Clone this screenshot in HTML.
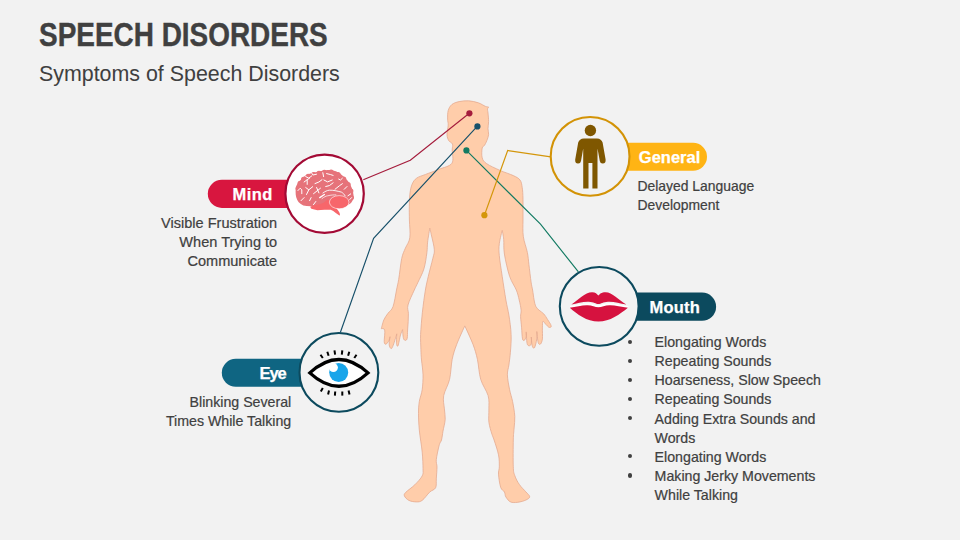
<!DOCTYPE html>
<html><head><meta charset="utf-8">
<style>
html,body{margin:0;padding:0;}
body{width:960px;height:540px;overflow:hidden;background:#F2F2F2;position:relative;font-family:"Liberation Sans",sans-serif;color:#404040;}
.t{position:absolute;white-space:nowrap;}
#title{left:39px;top:18.2px;font-size:33px;line-height:33px;font-weight:bold;transform:scaleX(0.8465);-webkit-text-stroke:0.4px #404040;transform-origin:0 0;color:#404040;}
#sub{left:39px;top:63.5px;font-size:21.4px;line-height:21.4px;color:#404040;}
.body{font-size:14.2px;line-height:18.8px;-webkit-text-stroke:0.2px #404040;}
.lab{position:absolute;font-weight:bold;color:#fff;font-size:16.5px;line-height:16px;white-space:nowrap;-webkit-text-stroke:0.25px #fff;}
svg{position:absolute;left:0;top:0;}
ul{margin:0;padding:0;list-style:none;}
.li{position:relative;}
.li:before{content:"";position:absolute;left:-26.4px;top:6.6px;width:4.1px;height:4.1px;border-radius:50%;background:#404040;}
</style></head><body>
<svg width="960" height="540" viewBox="0 0 960 540">
  <!-- pills -->
  <rect x="207.8" y="179.8" width="120" height="28.1" rx="14.05" fill="#D8163F"/>
  <rect x="590" y="142.8" width="117" height="28" rx="14" fill="#FFB414"/>
  <rect x="598" y="292.6" width="118.1" height="28.2" rx="14.1" fill="#0C4A5E"/>
  <rect x="221.8" y="358.8" width="118" height="28" rx="14" fill="#0F6582"/>
  <!-- body -->
  <path d="M468.7,100.8C471.9,101.0 475.5,101.9 478.3,102.8C481.1,103.7 483.8,105.7 485.5,106.4C487.2,107.1 488.3,106.6 488.6,107.0C488.9,107.4 487.6,108.0 487.5,109.0C487.4,110.0 487.8,110.9 488.0,113.0C488.2,115.1 488.6,118.9 488.6,121.5C488.6,124.1 488.0,126.5 488.0,128.7C488.0,130.9 488.8,132.7 488.6,134.7C488.4,136.7 487.5,138.9 486.8,140.7C486.1,142.5 485.2,144.3 484.4,145.5C483.6,146.7 482.6,145.9 482.2,148.0C481.8,150.1 481.4,155.2 482.2,157.8C482.9,160.4 483.7,161.6 486.7,163.7C489.7,165.8 495.6,168.4 500.0,170.4C504.4,172.4 510.0,174.0 513.3,175.6C516.6,177.2 518.5,178.0 520.0,180.0C521.5,182.0 521.7,184.2 522.2,187.4C522.7,190.6 522.9,193.9 523.0,199.3C523.1,204.7 523.0,213.8 523.0,220.0C523.0,226.2 522.6,230.9 523.3,236.3C524.0,241.7 526.5,247.9 527.4,252.6C528.3,257.3 528.3,259.5 528.9,264.4C529.5,269.3 530.5,277.9 531.1,282.2C531.7,286.5 532.1,287.0 532.6,290.0C533.1,293.0 533.6,297.2 534.1,300.0C534.6,302.8 535.1,304.8 535.9,306.5C536.7,308.2 537.8,309.0 539.1,310.2C540.4,311.4 542.4,312.4 543.8,313.9C545.2,315.4 546.4,317.6 547.5,319.4C548.6,321.2 550.1,323.2 550.7,324.5C551.3,325.8 551.2,326.9 551.2,326.9C551.2,326.9 549.8,327.8 548.9,327.3C548.0,326.8 546.6,325.1 545.6,324.1C544.6,323.1 543.4,320.7 542.9,321.3C542.4,321.9 542.5,324.9 542.4,327.8C542.3,330.7 542.7,336.2 542.4,338.9C542.1,341.6 541.2,343.4 540.5,344.0C539.8,344.6 538.8,344.7 538.2,342.6C537.6,340.5 536.8,331.5 536.8,331.5C536.8,331.5 537.2,336.2 536.8,338.9C536.4,341.6 535.3,346.5 534.5,347.7C533.7,348.9 532.7,347.6 532.2,345.8C531.7,344.0 531.3,337.0 531.3,337.0C531.3,337.0 531.6,342.0 531.3,343.5C531.0,345.0 530.1,345.8 529.4,345.8C528.7,345.8 527.6,345.8 527.1,343.5C526.6,341.2 526.2,331.9 526.2,331.9C526.2,331.9 526.5,335.6 526.2,337.0C525.9,338.4 524.9,340.0 524.3,340.3C523.7,340.6 523.0,341.0 522.5,338.9C522.0,336.8 521.9,331.5 521.6,327.8C521.3,324.1 520.7,319.6 520.6,316.7C520.5,313.8 521.3,313.0 521.1,310.2C520.9,307.4 520.0,303.4 519.2,300.0C518.4,296.6 517.9,293.9 516.3,290.0C514.7,286.1 511.6,282.3 509.6,276.3C507.6,270.3 505.4,260.2 504.4,254.0C503.4,247.8 504.1,243.2 503.7,239.3C503.3,235.4 502.2,230.4 502.2,230.4C502.2,230.4 499.8,239.5 499.3,243.7C498.8,247.9 498.8,250.2 499.3,255.6C499.8,261.0 501.1,268.9 502.2,276.3C503.3,283.7 504.8,293.5 505.9,300.0C507.0,306.5 508.0,309.5 508.9,315.2C509.8,320.9 510.9,328.2 511.1,334.4C511.4,340.6 510.8,347.1 510.4,352.2C510.0,357.3 509.4,361.2 508.9,365.0C508.4,368.8 507.3,370.7 507.4,374.8C507.5,378.9 508.7,385.2 509.6,389.6C510.5,394.1 511.7,397.1 512.6,401.5C513.5,405.9 514.5,411.9 514.8,416.3C515.0,420.7 514.4,424.2 514.1,428.1C513.9,432.1 513.4,433.6 513.3,440.0C513.2,446.4 513.0,460.8 513.3,466.7C513.5,472.6 513.8,472.7 514.8,475.6C515.8,478.6 517.4,481.7 519.3,484.4C521.1,487.1 524.2,489.9 525.9,491.9C527.6,493.9 529.4,495.1 529.6,496.3C529.9,497.5 529.0,498.4 527.4,499.3C525.8,500.2 522.7,501.4 520.0,501.9C517.3,502.4 513.5,503.0 511.1,502.2C508.8,501.4 507.0,498.7 505.9,497.0C504.8,495.3 505.3,493.5 504.4,491.9C503.5,490.3 501.7,490.4 500.7,487.4C499.7,484.4 498.7,477.6 498.5,474.1C498.3,470.7 499.3,469.9 499.3,466.7C499.3,463.5 499.4,459.2 498.5,454.8C497.6,450.4 495.2,443.4 494.1,440.0C493.0,436.6 492.8,437.1 491.9,434.1C491.0,431.1 489.4,426.4 488.9,422.2C488.4,418.0 489.0,413.3 488.9,408.9C488.8,404.5 489.5,400.5 488.1,395.6C486.7,390.7 482.5,385.4 480.7,379.3C478.9,373.2 478.7,365.1 477.4,359.3C476.1,353.5 475.1,350.0 473.0,344.4C470.9,338.8 464.8,325.9 464.8,325.9C464.8,325.9 458.8,338.8 456.7,344.4C454.6,350.0 453.4,353.5 452.2,359.3C451.0,365.1 451.0,373.2 449.6,379.3C448.2,385.4 444.6,390.7 443.7,395.6C442.8,400.5 444.1,404.9 444.4,408.9C444.6,412.8 445.4,415.6 445.2,419.3C445.0,423.0 443.6,427.7 443.0,431.1C442.4,434.6 442.1,437.7 441.5,440.0C440.9,442.3 440.2,441.5 439.3,444.8C438.4,448.1 436.7,455.9 436.3,459.6C435.9,463.3 437.0,463.8 437.0,467.0C437.0,470.2 436.5,475.4 436.3,478.9C436.1,482.4 436.7,485.6 435.6,487.8C434.5,490.0 431.8,490.1 429.6,492.2C427.4,494.3 424.4,498.8 422.2,500.4C420.0,502.0 418.5,501.9 416.3,501.9C414.1,501.9 410.9,501.4 408.9,500.4C406.9,499.4 404.9,497.3 404.4,495.9C403.9,494.5 404.2,494.0 405.9,492.2C407.6,490.4 412.1,487.5 414.8,484.8C417.5,482.1 420.8,478.6 422.2,475.9C423.6,473.2 423.0,472.4 423.0,468.5C423.0,464.6 422.8,458.6 422.2,452.2C421.6,445.8 419.9,436.5 419.3,430.0C418.7,423.5 418.5,418.1 418.5,413.3C418.5,408.6 418.7,405.4 419.3,401.5C419.9,397.6 421.6,394.1 422.2,389.6C422.8,385.2 423.1,379.7 423.0,374.8C422.9,369.9 421.9,364.2 421.5,360.0C421.1,355.8 421.0,353.6 420.9,349.3C420.8,345.0 420.4,340.6 420.6,334.4C420.9,328.2 421.6,319.6 422.4,312.2C423.2,304.8 424.4,296.0 425.4,290.0C426.4,284.0 427.1,281.6 428.3,276.3C429.5,271.1 431.8,262.9 432.8,258.5C433.8,254.1 434.6,253.5 434.3,249.6C434.1,245.7 432.1,238.4 431.3,234.8C430.6,231.2 429.8,228.1 429.8,228.1C429.8,228.1 428.1,238.1 427.6,242.2C427.1,246.3 427.5,248.2 426.9,252.6C426.3,257.1 425.4,264.0 423.9,268.9C422.4,273.8 419.6,278.7 418.0,282.2C416.4,285.7 416.0,286.2 414.3,290.0C412.6,293.8 409.0,301.1 408.0,305.0C407.0,308.9 408.4,310.5 408.4,313.3C408.4,316.1 408.3,318.9 408.2,321.7C408.1,324.5 407.8,327.2 407.6,330.0C407.4,332.8 407.6,336.6 407.2,338.3C406.8,340.0 406.1,340.4 405.5,340.4C404.9,340.4 403.9,340.1 403.4,338.3C402.9,336.5 402.6,329.6 402.6,329.6C402.6,329.6 401.3,332.3 400.5,335.0C399.7,337.7 398.7,344.4 398.0,345.8C397.3,347.2 396.7,345.3 396.5,343.3C396.3,341.3 396.8,333.8 396.8,333.8C396.8,333.8 396.3,335.9 395.5,338.3C394.7,340.7 392.8,347.2 391.8,348.3C390.7,349.4 389.5,346.9 389.2,345.0C389.0,343.1 390.0,336.7 390.0,336.7C390.0,336.7 389.5,339.6 388.8,340.8C388.1,342.1 386.7,344.1 385.9,344.2C385.1,344.3 384.4,344.1 384.2,341.7C384.1,339.3 385.2,332.2 384.7,330.0C384.2,327.8 381.3,328.8 381.3,328.8C381.3,328.8 382.7,322.6 383.8,320.0C384.9,317.4 386.5,315.5 388.0,313.3C389.5,311.1 391.6,310.6 393.0,306.7C394.4,302.8 395.6,294.6 396.5,290.0C397.4,285.4 397.8,284.6 398.7,279.3C399.6,274.1 400.6,263.7 401.7,258.5C402.8,253.3 404.0,251.5 405.4,248.1C406.8,244.7 409.1,242.5 409.8,237.8C410.5,233.1 409.5,225.2 409.4,220.0C409.3,214.8 409.2,210.8 409.3,206.3C409.4,201.8 409.5,196.7 410.0,193.0C410.5,189.3 411.1,186.5 412.2,184.0C413.3,181.5 414.5,179.7 416.7,178.1C418.9,176.5 421.9,175.9 425.6,174.4C429.3,172.9 434.5,171.2 438.9,169.3C443.3,167.5 449.7,166.5 451.9,163.3C454.1,160.1 452.1,153.2 452.2,150.0C452.3,146.8 453.1,145.6 452.5,144.0C451.9,142.4 449.7,142.2 448.8,140.7C447.9,139.1 447.1,137.3 447.0,134.7C446.9,132.1 448.1,127.7 448.2,125.1C448.3,122.5 447.6,121.5 447.6,119.1C447.6,116.7 447.5,113.0 448.2,110.6C448.9,108.2 450.0,106.1 451.8,104.6C453.6,103.1 456.3,102.2 459.1,101.6C461.9,101.0 465.5,100.6 468.7,100.8Z" fill="#FFCDAA" stroke="#E3A78C" stroke-width="0.75"/>
  <!-- lines -->
  <polyline points="363.3,179.8 410.3,160.2 469.3,113.3" fill="none" stroke="#A51C3C" stroke-width="1.15"/>
  <polyline points="477.2,126.3 373.6,238.4 340.4,332.2" fill="none" stroke="#17506A" stroke-width="1.15"/>
  <polyline points="466.4,150.4 540.5,224.2 578.4,271.9" fill="none" stroke="#127A62" stroke-width="1.15"/>
  <polyline points="484.4,215.2 507.7,150.5 550.8,156.9" fill="none" stroke="#D4960A" stroke-width="1.15"/>
  <circle cx="469.4" cy="113.3" r="3.1" fill="#A51C3C"/>
  <circle cx="477.4" cy="126.4" r="3.1" fill="#17506A"/>
  <circle cx="466.4" cy="150.4" r="3.1" fill="#127A62"/>
  <circle cx="484.4" cy="215.2" r="3.1" fill="#D4960A"/>
  <!-- circles -->
  <circle cx="324.6" cy="193.75" r="39.2" fill="#FFFFFF" stroke="#A30A35" stroke-width="2.2"/>
  <circle cx="590.1" cy="156.4" r="39.4" fill="#F2F2F2" stroke="#D39306" stroke-width="2.1"/>
  <circle cx="599.2" cy="306.35" r="39.4" fill="#F2F2F2" stroke="#0C4A5E" stroke-width="2.1"/>
  <circle cx="338.9" cy="372.4" r="39.4" fill="#F2F2F2" stroke="#0C4A5E" stroke-width="2.1"/>
  <!-- person icon -->
  <g fill="#7F5700">
    <circle cx="590.4" cy="130.5" r="5.7"/>
    <path d="M583.9,138.4 L597,138.4 Q601.5,138.6 602.6,142.5 L605.6,159.5 Q606,163.5 602.8,163.6 Q600.3,163.7 599.8,161 L597.5,148.6 L597.5,188.5 L592.4,188.5 L592.4,162.9 L588.5,162.9 L588.5,188.5 L583.2,188.5 L583.2,148.6 L581,161 Q580.5,163.7 578,163.6 Q574.8,163.5 575.2,159.5 L578.2,142.5 Q579.3,138.6 583.9,138.4 Z"/>
  </g>
  <!-- lips -->
  <path d="M570,305.8 C577,305 582,303.2 588.5,303.2 C593,303.2 595.5,305.2 598.4,305.3 C601.3,305.2 604,303.2 608.3,303.2 C615,303.2 620,305 628.5,306 L628,307.6 C621,306.8 615,305.2 609.6,305.3 C605,305.4 601.8,307.3 598.4,307.3 C595,307.3 592,305.4 587.3,305.3 C582,305.2 576,306.8 569.8,307.7 Z" fill="#FFFFFF"/>
  <g fill="#D6123F">
    <path d="M571.4,304.5 C578,300 585,292.2 592.1,292.2 C595.5,292.2 597,294 598.4,295.6 C599.8,294 601.3,292.2 605.6,292.2 C612,292.2 619,300 626.3,304.5 C620,303.5 614,301.5 608,301.8 C603,302.1 601,304 598.4,304.1 C595.8,304 593.8,302.1 588.9,301.8 C583,301.5 577,303.5 571.4,304.5 Z"/>
    <path d="M569.8,307.7 C576,306.8 582,305.2 587.3,305.3 C592,305.4 595,307.3 598.4,307.3 C601.8,307.3 605,305.4 609.6,305.3 C615,305.2 621,306.8 627.9,307.7 C620,314 610,321.6 598.4,321.6 C586.8,321.6 577,314 569.8,307.7 Z"/>
  </g>
  <!-- eye -->
  <g>
    <path d="M309.8,372.9 Q338.9,346 368,372.9 Q338.9,399.8 309.8,372.9 Z" fill="#FFFFFF" stroke="#000" stroke-width="3.3" stroke-linejoin="miter" stroke-miterlimit="10"/>
    <circle cx="338.7" cy="372.5" r="9.5" fill="#18A5EA"/>
    <circle cx="333.4" cy="367.6" r="4.5" fill="#FFFFFF"/>
    <g stroke="#000" stroke-width="2" stroke-linecap="butt">
      <line x1="320.5" y1="354.7" x2="322.8" y2="358"/>
      <line x1="327.3" y1="351.7" x2="328.6" y2="355.8"/>
      <line x1="334.5" y1="350.4" x2="335.1" y2="354.6"/>
      <line x1="342.3" y1="350.4" x2="341.8" y2="354.6"/>
      <line x1="349.3" y1="351.7" x2="348.1" y2="355.8"/>
      <line x1="356.5" y1="354.7" x2="354.3" y2="358"/>
      <line x1="322.8" y1="388" x2="320.8" y2="391.5"/>
      <line x1="329" y1="390.5" x2="328.1" y2="394.5"/>
      <line x1="335.2" y1="391.5" x2="334.9" y2="395.6"/>
      <line x1="342.3" y1="391.5" x2="342.3" y2="395.6"/>
      <line x1="348.6" y1="390.5" x2="349.5" y2="394.5"/>
    </g>
  </g>
  <!-- brain -->
  <g>
    <path d="M295.6,191.4 C295.8,188.5 296,186.8 296.7,185.1 C297.8,183 299,181.6 300.2,180.5 C301.5,179 302.8,177.6 304.1,176.6 C305.8,175.3 307.6,174.4 309.6,173.8 C311.7,173 313.7,172.6 315.8,172.3 C317.7,171.8 319.5,171.3 321.3,171.1 C323.4,170.6 325.5,170 327.6,169.9 C330.5,169.9 333.3,170.4 335.9,171.2 C338.3,172.2 340.5,173.6 342.4,175.4 C344.6,177.2 346.4,179 347.9,181 C349.5,183.1 350.8,185.2 351.6,187.4 C352.7,190 353.3,192.5 353.5,194.9 C353.6,196.9 353.3,198.7 352.6,200.4 C351.9,201.8 351,203 349.8,204.1 L340,207 L328,205 L322,207 C318,207 314,206.7 310.4,206.2 C307.8,206 305.5,205.8 303.3,205.4 C301.6,204.5 300,203.5 298.7,202.3 C297.6,200.8 296.8,199.3 296.3,197.6 C295.8,195.6 295.5,193.5 295.6,191.4 Z" fill="#E6737A"/>
    <g fill="#E6737A"><circle cx="298.1" cy="188.3" r="2.6"/><circle cx="300.1" cy="183.3" r="2.6"/><circle cx="303.6" cy="179.4" r="2.6"/><circle cx="308.2" cy="176.3" r="2.6"/><circle cx="313.6" cy="174.5" r="2.6"/><circle cx="319.0" cy="173.4" r="2.6"/><circle cx="324.4" cy="172.3" r="2.6"/><circle cx="331.1" cy="172.1" r="2.6"/><circle cx="338.0" cy="174.5" r="2.6"/><circle cx="343.7" cy="179.0" r="2.6"/><circle cx="348.1" cy="184.6" r="2.6"/><circle cx="350.8" cy="191.1" r="2.6"/><circle cx="351.4" cy="197.6" r="2.6"/></g>
    <path d="M310.3,206.8 C312,205.8 313,205.4 314.4,205.2 C316,204.8 318,204.4 319.5,204.2 C321,203.8 322.5,203.3 323.6,202.7 C325,201.8 326.5,200.6 327.6,199.6 L333,202 L336.8,208.8 C338,210.5 339.5,212.3 339.9,213.9 C340,214.8 339.8,215.6 339.4,215.4 C338.2,214.6 337,213.8 335.8,212.9 C334,211.6 332.5,210.5 330.7,209.8 C328.5,209.6 326.5,209.7 324.6,209.8 C322,210.1 319.5,210.3 317.5,210.3 C315.3,209.9 313.2,209.4 311.4,208.8 C310.8,208.2 310.3,207.5 310.3,206.8 Z" fill="#F7666B"/>
    <ellipse cx="339.2" cy="202.2" rx="9.8" ry="6.6" fill="#F7666B" stroke="#FFFFFF" stroke-width="0.6"/>
    <g stroke="#FFFFFF" fill="none" stroke-linecap="round" stroke-linejoin="round">
      <g stroke-width="1">
        <path d="M297.9,190.6 L300.2,188.2 L301.8,189.8 L301.8,193.7"/>
        <path d="M304.1,182 L307.2,179.7 L309.6,178.1 M307.2,179.7 L307.2,184.4"/>
        <path d="M305.7,187.5 L308.8,189.8 L312.7,186.7 M308.8,189.8 L306.5,194.5"/>
        <path d="M313.5,193.7 L320.5,188.2 M316.6,187.5 L318.9,192.9"/>
        <path d="M315,183.6 L318.9,182 L322,179.7"/>
        <path d="M301,200.7 L304.1,197.6"/>
        <path d="M309.6,200.7 L311.1,197.6"/>
        <path d="M313.5,204.6 L315.8,201.5"/>
        <path d="M305.7,176.6 L308.8,178.1 L311.9,175.8"/>
        <path d="M322.8,172.7 L323.6,176.6"/>
        <path d="M311.5,172.8 L313,175 L316.5,174.2"/>
        <path d="M323.9,180 L327.6,181.9 L332.2,180"/>
        <path d="M325.7,186.5 L329.4,185.6 L333.1,182.8"/>
        <path d="M326.6,173.6 L330.3,174.5 L333.1,175.4"/>
        <path d="M338.7,179.1 L340.5,180 L342.4,178.2"/>
        <path d="M335,189.3 L339.6,185.6 L342.4,183.7"/>
        <path d="M344.2,189.3 L347,186.5"/>
        <path d="M347.9,195.8 L350.7,193.9"/>
        <path d="M349.8,199.5 L351.6,197.6"/>
      </g>
      <path d="M319.7,197.6 L324.4,194.5" stroke-width="1.3"/>
      <path d="M322.9,193 C325,191.5 327,190.4 329.4,190.2 C333,190 337,191 341.4,192.1 C343,193 344.2,194.2 345.1,195.8" stroke-width="0.9"/>
      <path d="M322,198.6 C324,197 326,196 327.6,195.8 C331,195 334,194.8 335.9,194.9" stroke-width="0.7"/>
    </g>
  </g>
</svg>
<div class="t" id="title">SPEECH DISORDERS</div>
<div class="t" id="sub">Symptoms of Speech Disorders</div>
<div class="lab" style="left:232.6px;top:185.8px;letter-spacing:0.45px;">Mind</div>
<div class="lab" style="left:638.8px;top:148.6px;">General</div>
<div class="lab" style="left:649.5px;top:298.6px;letter-spacing:0.2px;">Mouth</div>
<div class="lab" style="left:259.6px;top:364.8px;letter-spacing:-1.2px;">Eye</div>
<div class="t body" style="right:682.8px;top:213.5px;line-height:19px;font-size:14.55px;text-align:right;">Visible Frustration<br>When Trying to<br>Communicate</div>
<div class="t body" style="right:668.75px;top:392.9px;line-height:18.7px;text-align:right;">Blinking Several<br>Times While Talking</div>
<div class="t body" style="left:637.5px;top:177.2px;font-size:13.9px;line-height:18.6px;">Delayed Language<br>Development</div>
<div class="t body" style="left:654.6px;top:333.1px;line-height:19.11px;">
<div class="li">Elongating Words</div>
<div class="li">Repeating Sounds</div>
<div class="li">Hoarseness, Slow Speech</div>
<div class="li">Repeating Sounds</div>
<div class="li">Adding Extra Sounds and<br>Words</div>
<div class="li">Elongating Words</div>
<div class="li">Making Jerky Movements<br>While Talking</div>
</div>
</body></html>
